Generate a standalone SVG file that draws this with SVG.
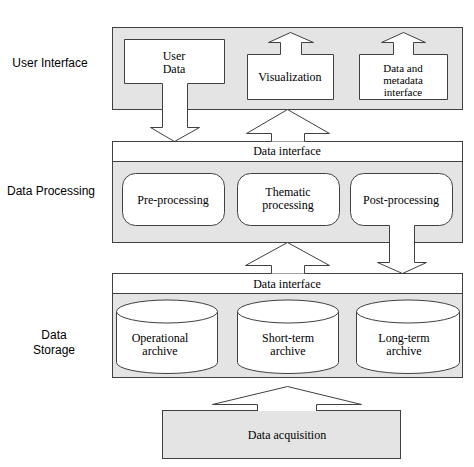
<svg xmlns="http://www.w3.org/2000/svg" width="474" height="467" viewBox="0 0 474 467">
<style>
.panel{fill:#e4e4e4;stroke:#404040;stroke-width:1}
.box{fill:#ffffff;stroke:#404040;stroke-width:1}
.arrow{fill:#ffffff;stroke:#404040;stroke-width:1}
.t{font-family:"Liberation Serif","Times New Roman",serif;font-size:12px;fill:#000;text-anchor:middle}
.s{font-size:11px}
.l{font-family:"Liberation Sans",Arial,sans-serif;font-size:12px;fill:#000;text-anchor:middle}
</style>
<rect width="474" height="467" fill="#ffffff"/>
<g id="labels">
<text class="l" x="50" y="67">User Interface</text>
<text class="l" x="51" y="195">Data Processing</text>
<text class="l" x="54" y="339">Data</text>
<text class="l" x="54" y="354">Storage</text>
</g>
<g id="user-interface-layer">
<rect class="panel" x="112.5" y="27.5" width="350" height="82"/>
</g>
<g id="user-data">
<path class="box" d="M124.5,39.5 H224.5 V83.5 H187.5 V127.5 H199.5 L174.5,141.5 L150.5,127.5 H162.5 V83.5 H124.5 Z"/>
<text class="t" x="174" y="60">User</text>
<text class="t" x="174" y="73">Data</text>
</g>
<g id="visualization">
<path class="box" d="M247.5,99.5 V54.5 H280.5 V42.5 H268.5 L290.5,32.5 L313.5,42.5 H301.5 V54.5 H333.5 V99.5 Z"/>
<text class="t" x="290" y="81">Visualization</text>
</g>
<g id="metadata-interface">
<path class="box" d="M359.5,99.5 V54.5 H393.5 V42.5 H381.5 L403.5,32.5 L425.5,42.5 H413.5 V54.5 H447.5 V99.5 Z"/>
<text class="t s" x="403" y="72">Data and</text>
<text class="t s" x="403" y="84">metadata</text>
<text class="t s" x="403" y="96">interface</text>
</g>
<g id="data-processing-layer">
<rect class="panel" x="112.5" y="141.5" width="350" height="101"/>
<rect class="box" x="112.5" y="141.5" width="350" height="20"/>
<text class="t" x="287" y="155">Data interface</text>
</g>
<g id="pre-processing">
<rect class="box" x="122.5" y="173.5" width="102" height="52" rx="13"/>
<text class="t" x="173" y="204">Pre-processing</text>
</g>
<g id="thematic-processing">
<rect class="box" x="237.5" y="173.5" width="102" height="52" rx="13"/>
<text class="t" x="288" y="196">Thematic</text>
<text class="t" x="288" y="209">processing</text>
</g>
<g id="post-processing">
<path class="box" d="M363.5,173.5 H439.5 A13,13 0 0 1 452.5,186.5 V212.5 A13,13 0 0 1 439.5,225.5 H414.5 V262.5 H426.5 L402.5,273.5 L377.5,262.5 H389.5 V225.5 H363.5 A13,13 0 0 1 350.5,212.5 V186.5 A13,13 0 0 1 363.5,173.5 Z"/>
<text class="t" x="401" y="204">Post-processing</text>
</g>
<g id="data-storage-layer">
<rect class="panel" x="112.5" y="273.5" width="350" height="104"/>
<rect class="box" x="112.5" y="273.5" width="350" height="20"/>
<text class="t" x="287" y="288">Data interface</text>
</g>
<g id="operational-archive">
<path class="box" d="M116.5,311.5 A50.5,11.5 0 0 1 217.5,311.5 V362.5 A50.5,11 0 0 1 116.5,362.5 Z"/>
<path class="box" d="M116.5,311.5 A50.5,11.5 0 0 0 217.5,311.5"/>
<text class="t" x="160" y="342">Operational</text>
<text class="t" x="160" y="355">archive</text>
</g>
<g id="short-term-archive">
<path class="box" d="M237.5,311.5 A50.5,11.5 0 0 1 338.5,311.5 V362.5 A50.5,11 0 0 1 237.5,362.5 Z"/>
<path class="box" d="M237.5,311.5 A50.5,11.5 0 0 0 338.5,311.5"/>
<text class="t" x="288" y="342">Short-term</text>
<text class="t" x="288" y="355">archive</text>
</g>
<g id="long-term-archive">
<path class="box" d="M356.5,311.5 A51.5,11.5 0 0 1 459.5,311.5 V362.5 A51.5,11 0 0 1 356.5,362.5 Z"/>
<path class="box" d="M356.5,311.5 A51.5,11.5 0 0 0 459.5,311.5"/>
<text class="t" x="404" y="342">Long-term</text>
<text class="t" x="404" y="355">archive</text>
</g>
<g id="data-acquisition">
<rect class="panel" x="162.5" y="410.5" width="238" height="48"/>
<path class="arrow" d="M257.5,411 V404.5 H212.5 L287.5,386.5 L361.5,404.5 H316.5 V411"/>
<text class="t" x="287" y="439">Data acquisition</text>
</g>
<g id="connectors">
<path class="arrow" d="M271.5,141.5 V133.5 H246.5 L287.5,109.5 L329.5,133.5 H304.5 V141.5"/>
<path class="arrow" d="M271.5,273.5 V265.5 H245.5 L287.5,242.5 L329.5,265.5 H304.5 V273.5"/>
</g>
</svg>
